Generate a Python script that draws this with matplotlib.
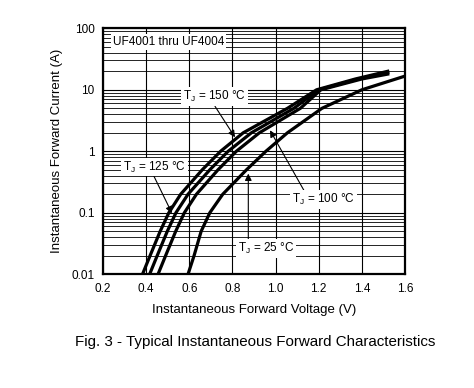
import matplotlib
matplotlib.use("Agg")
import matplotlib.pyplot as plt
from matplotlib.ticker import LogLocator, NullFormatter

plt.rcParams['font.family'] = ['Liberation Sans', 'DejaVu Sans']

# Data: forward voltage (V) at given forward currents (A)
I_150 = [0.01, 0.02, 0.05, 0.1, 0.2, 0.5, 1, 2, 5, 10, 15, 20]
V_150 = [0.383, 0.418, 0.465, 0.505, 0.560, 0.660, 0.745, 0.850, 1.055, 1.19, 1.37, 1.52]
I_125 = [0.01, 0.02, 0.05, 0.1, 0.2, 0.5, 1, 2, 5, 10, 15, 19]
V_125 = [0.416, 0.451, 0.498, 0.538, 0.594, 0.695, 0.780, 0.888, 1.085, 1.20, 1.385, 1.52]
I_100 = [0.01, 0.02, 0.05, 0.1, 0.2, 0.5, 1, 2, 5, 10, 15, 18]
V_100 = [0.455, 0.490, 0.537, 0.577, 0.633, 0.733, 0.818, 0.925, 1.115, 1.21, 1.40, 1.52]
I_25 = [0.01, 0.02, 0.05, 0.1, 0.2, 0.5, 1, 2, 5, 10, 16.7]
V_25 = [0.594, 0.622, 0.655, 0.695, 0.755, 0.865, 0.955, 1.055, 1.215, 1.400, 1.600]

x_ticks = [0.2, 0.4, 0.6, 0.8, 1.0, 1.2, 1.4, 1.6]
x_tick_labels = ["0.2", "0.4", "0.6", "0.8", "1.0", "1.2", "1.4", "1.6"]
y_ticks = [0.01, 0.1, 1, 10, 100]
y_tick_labels = ["0.01", "0.1", "1", "10", "100"]

fig = plt.figure(figsize=(4.74, 3.88), dpi=100)
ax = fig.add_axes([103/474, 1-274.3/388, (405-103)/474, (274.3-28.3)/388])
ax.set_yscale('log')
ax.set_xlim(0.2, 1.6)
ax.set_ylim(0.01, 100)

ax.set_xticks(x_ticks)
ax.set_xticklabels(x_tick_labels)
ax.set_yticks(y_ticks)
ax.set_yticklabels(y_tick_labels)
ax.yaxis.set_minor_locator(LogLocator(base=10, subs=range(2, 10)))
ax.yaxis.set_minor_formatter(NullFormatter())
ax.tick_params(which='both', length=0, labelsize=8.5, pad=6)

ax.grid(True, which='major', axis='both', color='black', lw=0.8)
ax.grid(True, which='minor', axis='y', color='black', lw=0.6)
ax.set_axisbelow(True)
for s in ax.spines.values():
    s.set_linewidth(1.6)

for V, I in [(V_150, I_150), (V_125, I_125), (V_100, I_100), (V_25, I_25)]:
    ax.plot(V, I, color='black', lw=2.3, solid_joinstyle='round', zorder=3)


def px2data(px, py):
    return (0.2 + (px - 103) / 215.7, 10 ** ((151 - py) / 61.5))


bbox = dict(boxstyle='square,pad=0.15', fc='white', ec='none')
ax.text(*px2data(113, 41.7), "UF4001 thru UF4004", fontsize=8.5,
        va='center', ha='left', bbox=bbox, zorder=4)

arrow = dict(arrowstyle='-|>', color='black', lw=0.8, mutation_scale=10, shrinkA=0, shrinkB=0)
ax.annotate("", xy=px2data(235, 137), xytext=px2data(215, 106), arrowprops=arrow, zorder=5)
ax.annotate("", xy=px2data(172, 213), xytext=px2data(153, 174), arrowprops=arrow, zorder=5)
ax.annotate("", xy=px2data(270, 130), xytext=px2data(305, 192), arrowprops=arrow, zorder=5)
ax.annotate("", xy=px2data(248.3, 173.3), xytext=px2data(248.3, 242), arrowprops=arrow, zorder=5)

ax.text(*px2data(183, 96), "T$_\\mathregular{J}$ = 150 °C", fontsize=8.5, va='center', ha='left', bbox=bbox, zorder=6)
ax.text(*px2data(123, 166.7), "T$_\\mathregular{J}$ = 125 °C", fontsize=8.5, va='center', ha='left', bbox=bbox, zorder=6)
ax.text(*px2data(292, 199), "T$_\\mathregular{J}$ = 100 °C", fontsize=8.5, va='center', ha='left', bbox=bbox, zorder=6)
ax.text(*px2data(238, 248.3), "T$_\\mathregular{J}$ = 25 °C", fontsize=8.5, va='center', ha='left', bbox=bbox, zorder=6)

ax.set_xlabel("Instantaneous Forward Voltage (V)", fontsize=9.5, labelpad=7)
ax.set_ylabel("Instantaneous Forward Current (A)", fontsize=9.5, labelpad=6)

fig.text(255/474, 1-342.3/388, "Fig. 3 - Typical Instantaneous Forward Characteristics",
         fontsize=10.9, ha='center', va='center')

fig.savefig("out.png", dpi=100)
